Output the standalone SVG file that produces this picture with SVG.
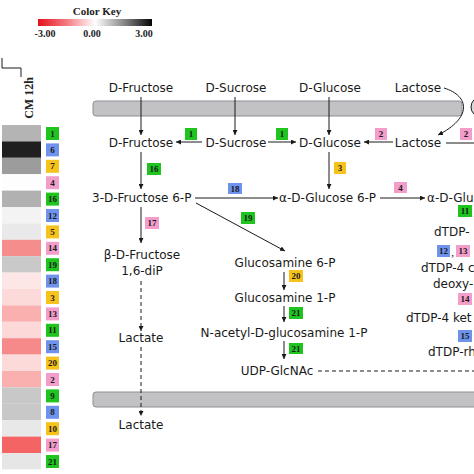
<svg xmlns="http://www.w3.org/2000/svg" width="474" height="474" viewBox="0 0 474 474">
<defs>
<linearGradient id="ck" x1="0" x2="1" y1="0" y2="0">
<stop offset="0" stop-color="#e3111b"/>
<stop offset="0.25" stop-color="#f47a80"/>
<stop offset="0.5" stop-color="#ffffff"/>
<stop offset="0.75" stop-color="#8a8a8a"/>
<stop offset="1" stop-color="#050505"/>
</linearGradient>
<marker id="ah" viewBox="0 0 6 6" refX="6" refY="3" markerWidth="5" markerHeight="5" markerUnits="userSpaceOnUse" orient="auto">
<path d="M0,0 L6,3 L0,6 z" fill="#1a1a1a"/>
</marker>
<style>
.t{font-family:"DejaVu Sans",Verdana,sans-serif;font-size:12px;fill:#1a1a1a}
.k{font-family:"Liberation Serif","Times New Roman",serif;font-weight:bold;fill:#222}
.b{font-family:"Liberation Serif","Times New Roman",serif;font-weight:bold;font-size:9px;fill:#1a1a1a;text-anchor:middle}
.g{fill:#1fc41f}.bl{fill:#6f93ec}.y{fill:#f6c31c}.p{fill:#f39dcb}
.ln{stroke:#1a1a1a;stroke-width:1;fill:none}
.ar{marker-end:url(#ah)}
.ds{stroke-dasharray:4,3}
.mem{fill:#c2c2c4;stroke:#8d8d96;stroke-width:1}
</style>
</defs>
<rect width="474" height="474" fill="#ffffff"/>

<g id="colorkey">
<text class="k" x="97" y="15" font-size="11" text-anchor="middle">Color Key</text>
<rect x="38" y="19" width="114" height="7" fill="url(#ck)"/>
<text class="k" x="45" y="37" font-size="10" text-anchor="middle">-3.00</text>
<text class="k" x="92" y="37" font-size="10" text-anchor="middle">0.00</text>
<text class="k" x="144" y="37" font-size="10" text-anchor="middle">3.00</text>
</g>

<g id="tree">
<path class="ln" d="M2,58 V68 H21 V77" stroke="#666"/>
</g>
<text class="k" font-size="12" transform="translate(33,98) rotate(-90)" text-anchor="middle">CM 12h</text>

<g id="heatmap">
<rect x="2" y="125" width="39" height="16.4" fill="#b4b4b4"/>
<rect x="2" y="141.4" width="39" height="16.4" fill="#1f1f1f"/>
<rect x="2" y="157.8" width="39" height="16.4" fill="#9c9c9c"/>
<rect x="2" y="174.2" width="39" height="16.4" fill="#fdfdfd"/>
<rect x="2" y="190.6" width="39" height="16.4" fill="#b1b1b1"/>
<rect x="2" y="207" width="39" height="16.4" fill="#f3f3f3"/>
<rect x="2" y="223.4" width="39" height="16.4" fill="#e9e9e9"/>
<rect x="2" y="239.8" width="39" height="16.4" fill="#f58d8d"/>
<rect x="2" y="256.2" width="39" height="16.4" fill="#c9c9c9"/>
<rect x="2" y="272.6" width="39" height="16.4" fill="#fde6e6"/>
<rect x="2" y="289" width="39" height="16.4" fill="#fddada"/>
<rect x="2" y="305.4" width="39" height="16.4" fill="#fbb0b0"/>
<rect x="2" y="321.8" width="39" height="16.4" fill="#fdd8d8"/>
<rect x="2" y="338.2" width="39" height="16.4" fill="#f68a8a"/>
<rect x="2" y="354.6" width="39" height="16.4" fill="#fddada"/>
<rect x="2" y="371" width="39" height="16.4" fill="#fbb0b0"/>
<rect x="2" y="387.4" width="39" height="16.4" fill="#c8c8c8"/>
<rect x="2" y="403.8" width="39" height="16.4" fill="#c8c8c8"/>
<rect x="2" y="420.2" width="39" height="16.4" fill="#e8e8e8"/>
<rect x="2" y="436.6" width="39" height="16.4" fill="#f56464"/>
<rect x="2" y="453" width="39" height="16.4" fill="#e6e6e6"/>
</g>

<g id="heat-badges">
<rect class="g" x="46" y="127" width="13" height="13"/><text class="b" x="52.5" y="136.5">1</text>
<rect class="bl" x="46" y="143.4" width="13" height="13"/><text class="b" x="52.5" y="152.9">6</text>
<rect class="y" x="46" y="159.8" width="13" height="13"/><text class="b" x="52.5" y="169.3">7</text>
<rect class="p" x="46" y="176.2" width="13" height="13"/><text class="b" x="52.5" y="185.7">4</text>
<rect class="g" x="46" y="192.6" width="13" height="13"/><text class="b" x="52.5" y="202.1">16</text>
<rect class="bl" x="46" y="209" width="13" height="13"/><text class="b" x="52.5" y="218.5">12</text>
<rect class="y" x="46" y="225.4" width="13" height="13"/><text class="b" x="52.5" y="234.9">5</text>
<rect class="p" x="46" y="241.8" width="13" height="13"/><text class="b" x="52.5" y="251.3">14</text>
<rect class="g" x="46" y="258.2" width="13" height="13"/><text class="b" x="52.5" y="267.7">19</text>
<rect class="bl" x="46" y="274.6" width="13" height="13"/><text class="b" x="52.5" y="284.1">18</text>
<rect class="y" x="46" y="291" width="13" height="13"/><text class="b" x="52.5" y="300.5">3</text>
<rect class="p" x="46" y="307.4" width="13" height="13"/><text class="b" x="52.5" y="316.9">13</text>
<rect class="g" x="46" y="323.8" width="13" height="13"/><text class="b" x="52.5" y="333.3">11</text>
<rect class="bl" x="46" y="340.2" width="13" height="13"/><text class="b" x="52.5" y="349.7">15</text>
<rect class="y" x="46" y="356.6" width="13" height="13"/><text class="b" x="52.5" y="366.1">20</text>
<rect class="p" x="46" y="373" width="13" height="13"/><text class="b" x="52.5" y="382.5">2</text>
<rect class="g" x="46" y="389.4" width="13" height="13"/><text class="b" x="52.5" y="398.9">9</text>
<rect class="bl" x="46" y="405.8" width="13" height="13"/><text class="b" x="52.5" y="415.3">8</text>
<rect class="y" x="46" y="422.2" width="13" height="13"/><text class="b" x="52.5" y="431.7">10</text>
<rect class="p" x="46" y="438.6" width="13" height="13"/><text class="b" x="52.5" y="448.1">17</text>
<rect class="g" x="46" y="455" width="13" height="13"/><text class="b" x="52.5" y="464.5">21</text>
</g>

<g id="membranes">
<rect class="mem" x="93" y="101" width="369" height="15" rx="3"/>
<rect class="mem" x="93" y="392" width="390" height="15" rx="3"/>
<circle cx="481" cy="107" r="10" fill="#d8d8d8" stroke="#1a1a1a" stroke-width="1"/>
</g>

<g id="connectors">
<line class="ln ar" x1="141" y1="97" x2="141" y2="135"/>
<line class="ln ar" x1="235" y1="97" x2="235" y2="135"/>
<line class="ln ar" x1="329" y1="97" x2="329" y2="135"/>
<path class="ln ar" d="M444,88 C470,96 472,118 438,135"/>
<line class="ln ar" x1="202" y1="142" x2="176" y2="142"/>
<line class="ln ar" x1="268" y1="142" x2="296" y2="142"/>
<line class="ln ar" x1="393" y1="142" x2="364" y2="142"/>
<line class="ln" x1="446" y1="143" x2="474" y2="143"/>
<line class="ln ar" x1="141" y1="152" x2="141" y2="189"/>
<line class="ln ar" x1="329" y1="152" x2="329" y2="189"/>
<line class="ln ar" x1="195" y1="198" x2="278" y2="198"/>
<line class="ln ar" x1="380" y1="198" x2="425" y2="198"/>
<line class="ln ar" x1="196" y1="203" x2="285" y2="251"/>
<line class="ln ar" x1="141" y1="207" x2="141" y2="243"/>
<line class="ln ar ds" x1="141" y1="281" x2="141" y2="331"/>
<line class="ln ar ds" x1="141" y1="347" x2="141" y2="416"/>
<line class="ln ar" x1="284" y1="272" x2="284" y2="290"/>
<line class="ln ar" x1="284" y1="306" x2="284" y2="322"/>
<line class="ln ar" x1="284" y1="341" x2="284" y2="359"/>
<line class="ln ds" x1="318" y1="371" x2="474" y2="371"/>
</g>

<g id="reaction-badges">
<rect class="g" x="185" y="128" width="12" height="12"/><text class="b" x="191" y="137">1</text>
<rect class="g" x="276" y="128" width="12" height="12"/><text class="b" x="282" y="137">1</text>
<rect class="p" x="375" y="128" width="12" height="12"/><text class="b" x="381" y="137">2</text>
<rect class="p" x="460" y="128" width="12" height="12"/><text class="b" x="466" y="137">2</text>
<rect class="g" x="147" y="163" width="14" height="12"/><text class="b" x="154" y="172">16</text>
<rect class="y" x="334" y="162" width="12" height="12"/><text class="b" x="340" y="171">3</text>
<rect class="bl" x="228" y="183" width="14" height="11"/><text class="b" x="235" y="191.5">18</text>
<rect class="p" x="394" y="182" width="13" height="11"/><text class="b" x="400.5" y="190.5">4</text>
<rect class="g" x="241" y="212" width="14" height="12"/><text class="b" x="248" y="221">19</text>
<rect class="p" x="145" y="217" width="14" height="12"/><text class="b" x="152" y="226">17</text>
<rect class="y" x="289" y="270" width="14" height="12"/><text class="b" x="296" y="279">20</text>
<rect class="g" x="289" y="307" width="14" height="12"/><text class="b" x="296" y="316">21</text>
<rect class="g" x="289" y="343" width="14" height="11"/><text class="b" x="296" y="351.5">21</text>
<rect class="g" x="458" y="205" width="14" height="12"/><text class="b" x="465" y="214">11</text>
<rect class="bl" x="437" y="245" width="13" height="12"/><text class="b" x="443.5" y="254">12</text>
<text class="b" x="452.5" y="256">,</text>
<rect class="p" x="456" y="245" width="14" height="12"/><text class="b" x="463" y="254">13</text>
<rect class="p" x="458" y="293" width="14" height="12"/><text class="b" x="465" y="302">14</text>
<rect class="bl" x="458" y="330" width="14" height="12"/><text class="b" x="465" y="339">15</text>
</g>

<g id="n-fructose-out"><text class="t" x="141" y="92" text-anchor="middle">D-Fructose</text></g>
<g id="n-sucrose-out"><text class="t" x="236" y="92" text-anchor="middle">D-Sucrose</text></g>
<g id="n-glucose-out"><text class="t" x="330" y="92" text-anchor="middle">D-Glucose</text></g>
<g id="n-lactose-out"><text class="t" x="418" y="92" text-anchor="middle">Lactose</text></g>
<g id="n-fructose"><text class="t" x="141" y="147" text-anchor="middle">D-Fructose</text></g>
<g id="n-sucrose"><text class="t" x="236" y="147" text-anchor="middle">D-Sucrose</text></g>
<g id="n-glucose"><text class="t" x="330" y="147" text-anchor="middle">D-Glucose</text></g>
<g id="n-lactose"><text class="t" x="418" y="147" text-anchor="middle">Lactose</text></g>
<g id="n-f6p"><text class="t" x="92" y="202">3-D-Fructose 6-P</text></g>
<g id="n-g6p"><text class="t" x="279" y="202">α-D-Glucose 6-P</text></g>
<g id="n-g1p"><text class="t" x="427" y="202">α-D-Glu</text></g>
<g id="n-fbp"><text class="t" x="142" y="259" text-anchor="middle">β-D-Fructose</text><text class="t" x="142" y="275" text-anchor="middle">1,6-diP</text></g>
<g id="n-lactate-in"><text class="t" x="141" y="342" text-anchor="middle">Lactate</text></g>
<g id="n-lactate-out"><text class="t" x="141" y="429" text-anchor="middle">Lactate</text></g>
<g id="n-gn6p"><text class="t" x="285" y="267" text-anchor="middle">Glucosamine 6-P</text></g>
<g id="n-gn1p"><text class="t" x="285" y="302" text-anchor="middle">Glucosamine 1-P</text></g>
<g id="n-nag1p"><text class="t" x="284" y="337" text-anchor="middle">N-acetyl-D-glucosamine 1-P</text></g>
<g id="n-udp"><text class="t" x="277" y="375" text-anchor="middle">UDP-GlcNAc</text></g>
<g id="n-dtdp"><text class="t" x="434" y="236">dTDP-</text></g>
<g id="n-dtdp4"><text class="t" x="421" y="272">dTDP-4 c</text><text class="t" x="433" y="288">deoxy-</text></g>
<g id="n-dtdpket"><text class="t" x="406" y="322">dTDP-4 ket</text></g>
<g id="n-dtdprh"><text class="t" x="428" y="356">dTDP-rh</text></g>
</svg>
